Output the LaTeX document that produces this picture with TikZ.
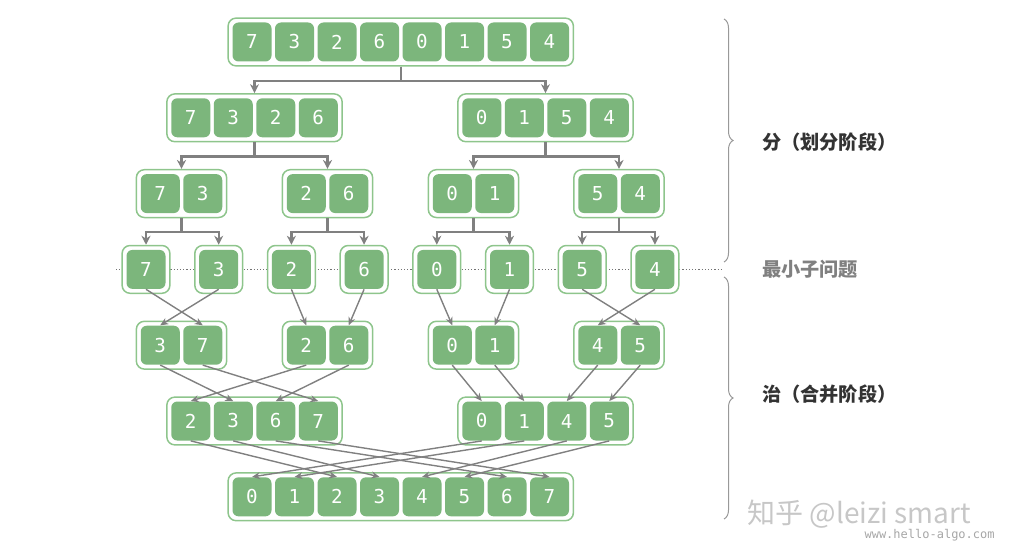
\documentclass[tikz,border=0pt]{standalone}
\usepackage{fontspec}
\setmonofont{DejaVu Sans Mono}
\newfontfamily\cjk{Noto Sans CJK SC}
\usetikzlibrary{fit, arrows.meta, backgrounds, decorations.pathreplacing}

\definecolor{cellgreen}{RGB}{124,182,124}
\definecolor{boxgreen}{RGB}{142,197,140}
\definecolor{lnkgray}{RGB}{128,128,128}

\begin{document}
\begin{tikzpicture}[
  x=0.5pt, y=-0.5pt,
  cell/.style={rectangle, rounded corners=3pt, fill=cellgreen, minimum size=19.5pt, inner sep=0pt, text=white, font=\ttfamily\fontsize{9.6}{9.6}\selectfont},
  box/.style={rectangle, rounded corners=4pt, draw=boxgreen, line width=0.75pt, fill=white, inner sep=2pt},
  split/.style={-{Stealth[length=4.5pt,width=4.5pt]}, draw=lnkgray, line width=1.1pt},
  merge/.style={-{Stealth[length=4pt,width=3.5pt]}, draw=lnkgray, line width=0.7pt},
  brc/.style={draw=black!40, line width=0.5pt, decorate, decoration={brace, amplitude=4.5pt}},
  phase/.style={anchor=west, text=black!80, font=\cjk\bfseries\fontsize{9.6}{9.6}\selectfont}
]
  \useasboundingbox (0,0) rectangle (1012,556);

  % cells, row by row
  \foreach \v/\x in {7/252, 3/294.5, 2/337, 6/379.5, 0/422, 1/464.5, 5/507, 4/549.5}
    \node[cell] (r1-\v) at (\x,42) {\v};
  \foreach \v/\x in {7/190.75, 3/233.25, 2/275.75, 6/318.25, 0/481.75, 1/524.25, 5/566.75, 4/609.25}
    \node[cell] (r2-\v) at (\x,117.8) {\v};
  \foreach \v/\x in {7/160.25, 3/202.75, 2/306.25, 6/348.75, 0/452.25, 1/494.75, 5/597.75, 4/640.25}
    \node[cell] (r3-\v) at (\x,193.6) {\v};
  \foreach \v/\x in {7/146, 3/218.7, 2/291.4, 6/364.1, 0/436.8, 1/509.5, 5/582.2, 4/654.9}
    \node[cell] (r4-\v) at (\x,269.4) {\v};
  \foreach \v/\x in {3/160.25, 7/202.75, 2/306.25, 6/348.75, 0/452.25, 1/494.75, 4/597.75, 5/640.25}
    \node[cell] (r5-\v) at (\x,345.2) {\v};
  \foreach \v/\x in {2/190.75, 3/233.25, 6/275.75, 7/318.25, 0/481.75, 1/524.25, 4/566.75, 5/609.25}
    \node[cell] (r6-\v) at (\x,421) {\v};
  \foreach \v in {0,...,7}
    \node[cell] (r7-\v) at (252+42.5*\v,496.8) {\v};

  % frames and the base-case line behind the cells
  \begin{scope}[on background layer]
    \coordinate (dl) at (116,269.4);
    \coordinate (dr) at (722,269.4);
    \draw[black!55, line width=0.6pt, dash pattern=on 0.6pt off 1pt] (dl) -- (dr);
    \node[box, fit=(r1-7)(r1-4)] (g1) {};
    \node[box, fit=(r2-7)(r2-6)] (g2a) {};
    \node[box, fit=(r2-0)(r2-4)] (g2b) {};
    \node[box, fit=(r3-7)(r3-3)] (g3a) {};
    \node[box, fit=(r3-2)(r3-6)] (g3b) {};
    \node[box, fit=(r3-0)(r3-1)] (g3c) {};
    \node[box, fit=(r3-5)(r3-4)] (g3d) {};
    \foreach \v in {0,...,7}
      \node[box, fit=(r4-\v)] (g4-\v) {};
    \node[box, fit=(r5-3)(r5-7)] (g5a) {};
    \node[box, fit=(r5-2)(r5-6)] (g5b) {};
    \node[box, fit=(r5-0)(r5-1)] (g5c) {};
    \node[box, fit=(r5-4)(r5-5)] (g5d) {};
    \node[box, fit=(r6-2)(r6-7)] (g6a) {};
    \node[box, fit=(r6-0)(r6-5)] (g6b) {};
    \node[box, fit=(r7-0)(r7-7)] (g7) {};
  \end{scope}

  % divide
  \foreach \p/\c in {g1/g2a, g1/g2b, g2a/g3a, g2a/g3b, g2b/g3c, g2b/g3d,
                     g3a/g4-7, g3a/g4-3, g3b/g4-2, g3b/g4-6, g3c/g4-0, g3c/g4-1, g3d/g4-5, g3d/g4-4}
    \draw[split] (\p.south) -- ++(0,14) -| (\c.north);

  % merge
  \foreach \a/\b in {4/5, 5/6, 6/7}
    \foreach \v in {0,...,7}
      \draw[merge] (r\a-\v.south) -- (r\b-\v.north);

  % phases
  \coordinate (b1) at (724,19);
  \coordinate (b2) at (724,262);
  \coordinate (b3) at (724,277);
  \coordinate (b4) at (724,519);
  \draw[brc] (b1) -- (b2);
  \draw[brc] (b3) -- (b4);
  \node[phase] (div) at (755,142) {分（划分阶段）};
  \node[phase, text=black!50] (base) at (755,269.4) {最小子问题};
  \node[phase] (conq) at (755,394) {治（合并阶段）};

  \node[anchor=west, text=black!22, font=\cjk\fontsize{14}{14}\selectfont, inner sep=0pt] (wm) at (747,514) {知乎 @leizi smart};
  \node[anchor=east, text=black!35, font=\ttfamily\fontsize{6}{6}\selectfont, inner sep=0pt] (site) at (995,535) {www.hello-algo.com};
\end{tikzpicture}
\end{document}
